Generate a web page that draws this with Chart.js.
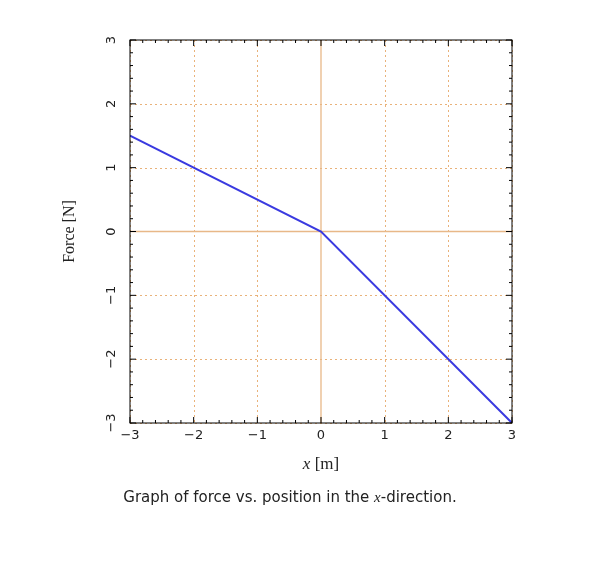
<!DOCTYPE html>
<html>
<head>
<meta charset="utf-8">
<script src="https://cdn.jsdelivr.net/npm/chart.js@4/dist/chart.umd.min.js"></script>
<style>
  body { margin: 0; background: #fff; }
  #wrap { position: relative; width: 596px; height: 561px; }
  #caption { position: absolute; left: 0; width: 580px; top: 488px; text-align: center;
    font-family: 'DejaVu Sans', sans-serif; font-size: 15px; color: #222; }
</style>
</head>
<body>
<div id="wrap">
  <canvas id="forceChart" width="596" height="561"></canvas>
  <div id="caption">Graph of force vs. position in the <i style="font-family:'Liberation Serif',serif">x</i>-direction.</div>
</div>
<script>
// Data
const positions = [-3, 0, 3];
const forces = [1.5, 0, -3];
const xTicks = [-3, -2, -1, 0, 1, 2, 3];
const yTicks = [-3, -2, -1, 0, 1, 2, 3];

const gridColor = '#e9b27a';

/**
 * Grid, frame, minor ticks, tick labels and axis labels
 */
const framePlugin = {
  id: 'frame',
  beforeDatasetsDraw(chart) {
    const { ctx, chartArea: a, scales: { x, y } } = chart;
    ctx.save();
    ctx.strokeStyle = gridColor;
    ctx.lineWidth = 1;
    ctx.setLineDash([2, 3]);
    ctx.beginPath();
    xTicks.forEach(v => {
      if (v === 0) return;
      const px = Math.round(x.getPixelForValue(v)) + 0.5;
      ctx.moveTo(px, a.top); ctx.lineTo(px, a.bottom);
    });
    yTicks.forEach(v => {
      if (v === 0) return;
      const py = Math.round(y.getPixelForValue(v)) + 0.5;
      ctx.moveTo(a.left, py); ctx.lineTo(a.right, py);
    });
    ctx.stroke();
    // solid zero lines
    ctx.setLineDash([]);
    ctx.strokeStyle = '#e8b888';
    ctx.lineWidth = 1.3;
    ctx.beginPath();
    ctx.moveTo(x.getPixelForValue(0), a.top); ctx.lineTo(x.getPixelForValue(0), a.bottom);
    ctx.moveTo(a.left, y.getPixelForValue(0)); ctx.lineTo(a.right, y.getPixelForValue(0));
    ctx.stroke();
    ctx.restore();
  },
  afterDraw(chart) {
    const { ctx, chartArea: a, scales: { x, y } } = chart;
    ctx.save();
    ctx.strokeStyle = '#000';
    ctx.lineWidth = 1;
    ctx.strokeRect(a.left, a.top, a.right - a.left, a.bottom - a.top);
    ctx.beginPath();
    for (let i = -30; i <= 30; i += 2) {
      const v = i / 10;
      const major = i % 10 === 0;
      const len = major ? 6 : 3;
      const px = x.getPixelForValue(v);
      ctx.moveTo(px, a.bottom); ctx.lineTo(px, a.bottom - len);
      ctx.moveTo(px, a.top); ctx.lineTo(px, a.top + len);
      const py = y.getPixelForValue(v);
      ctx.moveTo(a.left, py); ctx.lineTo(a.left + len, py);
      ctx.moveTo(a.right, py); ctx.lineTo(a.right - len, py);
    }
    ctx.stroke();

    ctx.fillStyle = '#222';
    ctx.font = '13px "DejaVu Sans", sans-serif';
    ctx.textAlign = 'center';
    ctx.textBaseline = 'top';
    xTicks.forEach(v => {
      ctx.fillText(v < 0 ? '\u2212' + (-v) : String(v), x.getPixelForValue(v), a.bottom + 6);
    });
    yTicks.forEach(v => {
      ctx.save();
      ctx.translate(a.left - 18, y.getPixelForValue(v));
      ctx.rotate(-Math.PI / 2);
      ctx.textBaseline = 'middle';
      ctx.fillText(v < 0 ? '\u2212' + (-v) : String(v), 0, 0);
      ctx.restore();
    });

    // axis labels
    ctx.font = '16px "Liberation Serif", serif';
    ctx.save();
    ctx.translate(70, (a.top + a.bottom) / 2);
    ctx.rotate(-Math.PI / 2);
    ctx.textBaseline = 'middle';
    ctx.fillText('Force [N]', 0, 0);
    ctx.restore();

    const cx = (a.left + a.right) / 2;
    ctx.textAlign = 'left';
    ctx.font = 'italic 17px "Liberation Serif", serif';
    const w1 = ctx.measureText('x').width;
    ctx.font = '17px "Liberation Serif", serif';
    const w2 = ctx.measureText(' [m]').width;
    const sx = cx - (w1 + w2) / 2;
    ctx.font = 'italic 17px "Liberation Serif", serif';
    ctx.fillText('x', sx, a.bottom + 33);
    ctx.font = '17px "Liberation Serif", serif';
    ctx.fillText(' [m]', sx + w1, a.bottom + 33);
    ctx.restore();
  },
};

new Chart(document.getElementById('forceChart'), {
  type: 'line',
  data: {
    datasets: [{
      data: positions.map((p, i) => ({ x: p, y: forces[i] })),
      borderColor: '#3a3ae0',
      borderWidth: 2,
      pointRadius: 0,
      fill: false,
      tension: 0,
    }],
  },
  options: {
    responsive: false,
    animation: false,
    layout: { padding: { left: 130, top: 40, right: 84, bottom: 138 } },
    plugins: { legend: { display: false }, tooltip: { enabled: false } },
    scales: {
      x: {
        type: 'linear', min: -3, max: 3,
        ticks: { display: false, stepSize: 1 },
        grid: { display: false, drawTicks: false },
        border: { display: false },
      },
      y: {
        type: 'linear', min: -3, max: 3,
        ticks: { display: false, stepSize: 1 },
        grid: { display: false, drawTicks: false },
        border: { display: false },
      },
    },
  },
  plugins: [framePlugin],
});
</script>
</body>
</html>
